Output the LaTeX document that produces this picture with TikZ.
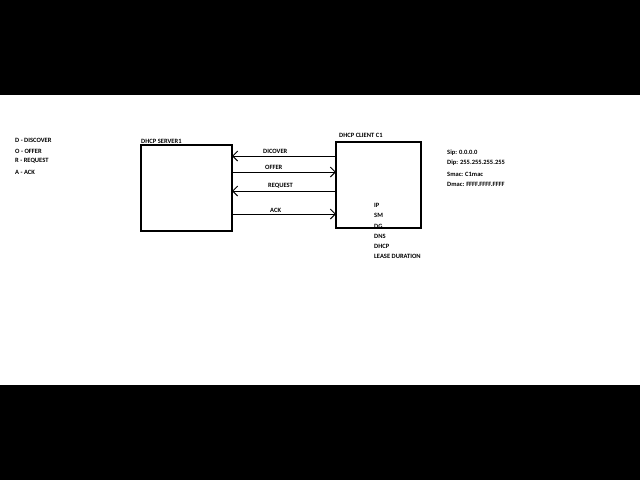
\documentclass[tikz,border=0pt]{standalone}
\usepackage{fontspec}
\setmainfont{Carlito}
\usetikzlibrary{arrows.meta}
\begin{document}
\begin{tikzpicture}[x=1pt,y=-1pt,
  lbl/.style={font=\bfseries\fontsize{6.5}{7}\selectfont,inner sep=0pt,anchor=west},
  box/.style={draw,line width=1.2pt},
  msg/.style={line width=1pt,-{Straight Barb[length=5pt,width=10pt]}}]
\useasboundingbox (0,0) rectangle (640,480);
\fill[black] (0,0) rectangle (640,95);
\fill[black] (0,385) rectangle (640,480);
\node[box,minimum width=91pt,minimum height=86pt,inner sep=0pt] (srv) at (186.5,188) {};
\node[box,minimum width=85pt,minimum height=86pt,inner sep=0pt] (cli) at (378.5,185) {};
\node[lbl] (srvl) at (141,141) {DHCP SERVER1};
\node[lbl] (clil) at (339,135) {DHCP CLIENT C1};
\coordinate (c1) at (336,156); \coordinate (s1) at (232,156);
\coordinate (s2) at (232,172); \coordinate (c2) at (336,172);
\coordinate (c3) at (336,191); \coordinate (s3) at (232,191);
\coordinate (s4) at (232,214); \coordinate (c4) at (336,214);
\draw[msg] (c1) -- (s1);
\draw[msg] (s2) -- (c2);
\draw[msg] (c3) -- (s3);
\draw[msg] (s4) -- (c4);
\node[lbl] (m1) at (263,151) {DICOVER};
\node[lbl] (m2) at (265,167) {OFFER};
\node[lbl] (m3) at (268,186) {REQUEST};
\node[lbl] (m4) at (270,210) {ACK};
\node[lbl] (i1) at (374,205) {IP};
\node[lbl] (i2) at (374,215) {SM};
\node[lbl] (i3) at (374,226) {DG};
\node[lbl] (i4) at (374,236) {DNS};
\node[lbl] (i5) at (374,246) {DHCP};
\node[lbl] (i6) at (374,256) {LEASE DURATION};
\node[lbl] (l1) at (15,140) {D - DISCOVER};
\node[lbl] (l2) at (15,151) {O - OFFER};
\node[lbl] (l3) at (15,161) {R - REQUEST};
\node[lbl] (l4) at (15,172) {A - ACK};
\node[lbl] (r1) at (447,153) {Sip: 0.0.0.0};
\node[lbl] (r2) at (447,163) {Dip: 255.255.255.255};
\node[lbl] (r3) at (447,174) {Smac: C1mac};
\node[lbl] (r4) at (447,184) {Dmac: FFFF.FFFF.FFFF};
\end{tikzpicture}
\end{document}
